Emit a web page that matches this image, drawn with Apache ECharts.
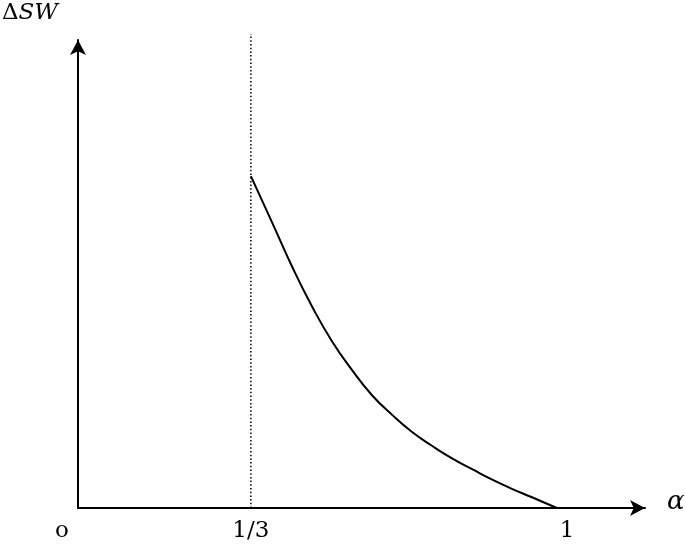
<!DOCTYPE html>
<html>
<head>
<meta charset="utf-8">
<script src="https://cdn.jsdelivr.net/npm/echarts@6/dist/echarts.min.js"></script>
<style>
  html, body { margin: 0; padding: 0; background: #fff; }
  #chart { width: 685px; height: 545px; }
</style>
</head>
<body>
<div id="chart"></div>
<script>
// schematic: x in alpha-like units (1 = where the curve meets the axis), y in units of the axis height
const alphaPos = [0.361, 0.405, 0.447, 0.489, 0.530, 0.572, 0.614, 0.656, 0.697, 0.739, 0.781, 0.823, 0.864, 0.906, 0.948, 1.0];
const deltaSW = [0.709, 0.611, 0.516, 0.430, 0.357, 0.295, 0.241, 0.199, 0.163, 0.133, 0.106, 0.083, 0.061, 0.041, 0.023, 0];

const thirdPos = 0.361;           // where 1/3 sits on the drawing
const dottedTop = 1.013;
const xTickValues = [0, 0.361, 1.021];
const xTickLabels = ["o", "1/3", "1"];

const serif = "DejaVu Serif";

const chart = echarts.init(document.getElementById("chart"));

const option = {
  animation: false,
  grid: { left: 78, right: 40, top: 40, bottom: 37, outerBoundsMode: "none" },
  xAxis: {
    type: "value",
    min: 0,
    max: 1.184,
    name: "α",
    nameLocation: "end",
    nameGap: 22,
    nameTextStyle: {
      fontFamily: serif, fontStyle: "italic", fontSize: 26, color: "#000",
      verticalAlign: "bottom", lineHeight: 12
    },
    axisLine: { lineStyle: { color: "#000", width: 2 }, symbol: ["none", "arrow"], symbolSize: [12, 15] },
    axisTick: { show: false },
    splitLine: { show: false },
    axisLabel: {
      customValues: xTickValues,
      margin: 12,
      color: "#000",
      fontFamily: serif,
      fontSize: 23,
      formatter: function (v) {
        const i = xTickValues.indexOf(v);
        const t = i >= 0 ? xTickLabels[i] : "";
        return v === 0 ? "{o|" + t + "}" : t;
      },
      rich: { o: { fontFamily: serif, fontSize: 23, color: "#000", padding: [0, 32, 0, 0] } }
    }
  },
  yAxis: {
    type: "value",
    min: 0,
    max: 1,
    name: "{d|Δ}{i|SW}",
    nameLocation: "end",
    nameGap: 15,
    nameTextStyle: {
      align: "right",
      padding: [0, 20, 0, 0],
      rich: {
        d: { fontFamily: serif, fontSize: 23, color: "#000" },
        i: { fontFamily: serif, fontStyle: "italic", fontSize: 23, color: "#000" }
      }
    },
    axisLine: { show: true, lineStyle: { color: "#000", width: 2 }, symbol: ["none", "arrow"], symbolSize: [12, 15] },
    axisTick: { show: false },
    axisLabel: { show: false },
    splitLine: { show: false }
  },
  series: [
    {
      type: "line",
      clip: false,
      symbol: "none",
      silent: true,
      lineStyle: { color: "#000", width: 1.5, type: [1.5, 2.2] },
      data: [[thirdPos, 0], [thirdPos, dottedTop]]
    },
    {
      type: "line",
      symbol: "none",
      smooth: 0.5,
      silent: true,
      lineStyle: { color: "#000", width: 2 },
      data: alphaPos.map((x, i) => [x, deltaSW[i]])
    }
  ]
};

chart.setOption(option);
</script>
</body>
</html>
